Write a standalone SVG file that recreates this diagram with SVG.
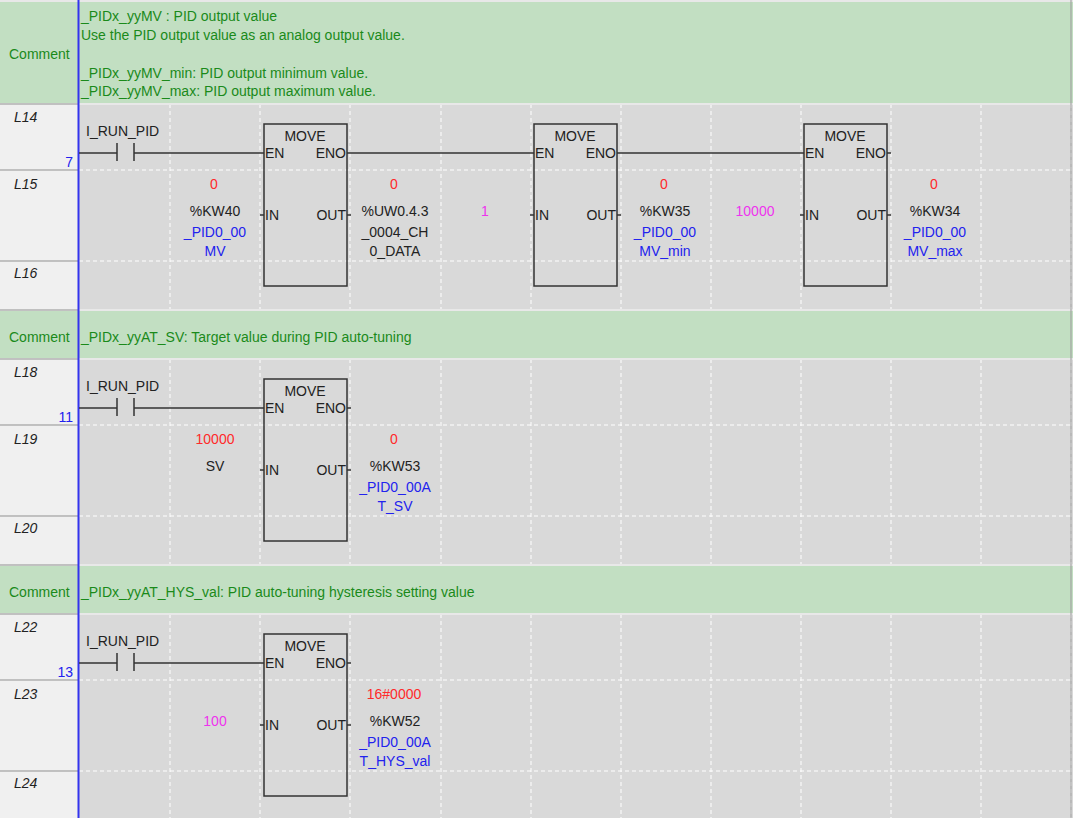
<svg xmlns="http://www.w3.org/2000/svg" width="1073" height="818" viewBox="0 0 1073 818">
<defs><style>
text{font-family:"Liberation Sans",Arial,sans-serif;font-size:14px}
.lbl{font-style:italic;fill:#222}
.cm{fill:#1a8a1a}
.k{fill:#222}
.r{fill:#ff2a2a}
.b{fill:#2222ee}
.m{fill:#ee33ee}
.grid{stroke:#fff;stroke-dasharray:4 3;stroke-width:1}
.w{stroke:#333;stroke-width:1.5;fill:none}
.box{fill:none;stroke:#333;stroke-width:1.5}
</style></defs>
<rect width="1073" height="818" fill="#d9d9d9"/>
<rect width="78" height="818" fill="#f0f0f0"/>
<g id="comments" fill="#c2dfc2">
<rect x="79" y="0" width="994" height="103"/><rect x="0" y="0" width="78" height="103"/>
<rect x="79" y="311" width="994" height="47"/><rect x="0" y="311" width="78" height="47"/>
<rect x="79" y="566" width="994" height="47"/><rect x="0" y="566" width="78" height="47"/>
</g>
<g id="grid">
<path class="grid" d="M170 104V310M260 104V310M350 104V310M441 104V310M531 104V310M621 104V310M711 104V310M801 104V310M891 104V310M981 104V310M1071 104V310"/>
<path class="grid" d="M170 359V565M260 359V565M350 359V565M441 359V565M531 359V565M621 359V565M711 359V565M801 359V565M891 359V565M981 359V565M1071 359V565"/>
<path class="grid" d="M170 614V818M260 614V818M350 614V818M441 614V818M531 614V818M621 614V818M711 614V818M801 614V818M891 614V818M981 614V818M1071 614V818"/>
<path class="grid" d="M79 170H1073M79 261H1073M79 425H1073M79 516H1073M79 680H1073M79 771H1073"/>
<path d="M0 1H1073M0 104H1073M0 310H1073M0 359H1073M0 565H1073M0 614H1073M0 170H78M0 261H78M0 425H78M0 516H78M0 680H78M0 771H78" stroke="#e8e8e8" stroke-width="2"/>
<path d="M0 104H78M0 170H78M0 261H78M0 310H78M0 359H78M0 425H78M0 516H78M0 565H78M0 614H78M0 680H78M0 771H78" stroke="#999" stroke-width="1"/>
<path d="M1071 0V818" stroke="#999"/>
</g>
<path d="M78.5 0V818" stroke="#3333ee" stroke-width="2"/>
<g id="labels">
<text x="9" y="59" class="cm">Comment</text>
<text x="9" y="342" class="cm">Comment</text>
<text x="9" y="597" class="cm">Comment</text>
<text x="14" y="122" class="lbl">L14</text><text x="14" y="189" class="lbl">L15</text><text x="14" y="278" class="lbl">L16</text>
<text x="14" y="377" class="lbl">L18</text><text x="14" y="444" class="lbl">L19</text><text x="14" y="533" class="lbl">L20</text>
<text x="14" y="632" class="lbl">L22</text><text x="14" y="699" class="lbl">L23</text><text x="14" y="788" class="lbl">L24</text>
<text x="73" y="167" class="b" text-anchor="end">7</text>
<text x="73" y="422" class="b" text-anchor="end">11</text>
<text x="73" y="677" class="b" text-anchor="end">13</text>
</g>
<g id="comment-text" class="cm">
<text x="81" y="21" class="cm">_PIDx_yyMV : PID output value</text>
<text x="81" y="40" class="cm">Use the PID output value as an analog output value.</text>
<text x="81" y="78" class="cm">_PIDx_yyMV_min: PID output minimum value.</text>
<text x="81" y="96" class="cm">_PIDx_yyMV_max: PID output maximum value.</text>
<text x="81" y="342" class="cm">_PIDx_yyAT_SV: Target value during PID auto-tuning</text>
<text x="81" y="597" class="cm">_PIDx_yyAT_HYS_val: PID auto-tuning hysteresis setting value</text>
</g>
<g id="connectors">
<path class="w" d="M79 153H117M134 153H264M347 153H534M617 153H804M887 153H891M117 143V161M134 143V161"/>
<path class="w" d="M260 215H264M347 215H351M530 215H534M617 215H621M800 215H804M887 215H891"/>
<path class="w" d="M79 408H117M134 408H264M347 408H351M117 398V416M134 398V416M260 470H264M347 470H351"/>
<path class="w" d="M79 663H117M134 663H264M347 663H351M117 653V671M134 653V671M260 725H264M347 725H351"/>
</g>
<g id="contact1"><text x="86" y="136" class="k">I_RUN_PID</text></g>
<g id="contact2"><text x="86" y="391" class="k">I_RUN_PID</text></g>
<g id="contact3"><text x="86" y="646" class="k">I_RUN_PID</text></g>
<g id="move1"><rect class="box" x="264" y="124" width="83" height="162"/><text x="305" y="141" class="k" text-anchor="middle">MOVE</text><text x="265" y="158" class="k">EN</text><text x="346" y="158" class="k" text-anchor="end">ENO</text><text x="265" y="220" class="k">IN</text><text x="346" y="220" class="k" text-anchor="end">OUT</text></g>
<g id="move2"><rect class="box" x="534" y="124" width="83" height="162"/><text x="575" y="141" class="k" text-anchor="middle">MOVE</text><text x="535" y="158" class="k">EN</text><text x="616" y="158" class="k" text-anchor="end">ENO</text><text x="535" y="220" class="k">IN</text><text x="616" y="220" class="k" text-anchor="end">OUT</text></g>
<g id="move3"><rect class="box" x="804" y="124" width="83" height="162"/><text x="845" y="141" class="k" text-anchor="middle">MOVE</text><text x="805" y="158" class="k">EN</text><text x="886" y="158" class="k" text-anchor="end">ENO</text><text x="805" y="220" class="k">IN</text><text x="886" y="220" class="k" text-anchor="end">OUT</text></g>
<g id="move4"><rect class="box" x="264" y="379" width="83" height="162"/><text x="305" y="396" class="k" text-anchor="middle">MOVE</text><text x="265" y="413" class="k">EN</text><text x="346" y="413" class="k" text-anchor="end">ENO</text><text x="265" y="475" class="k">IN</text><text x="346" y="475" class="k" text-anchor="end">OUT</text></g>
<g id="move5"><rect class="box" x="264" y="634" width="83" height="162"/><text x="305" y="651" class="k" text-anchor="middle">MOVE</text><text x="265" y="668" class="k">EN</text><text x="346" y="668" class="k" text-anchor="end">ENO</text><text x="265" y="730" class="k">IN</text><text x="346" y="730" class="k" text-anchor="end">OUT</text></g>
<g id="operands" text-anchor="middle">
<text x="214" y="189" class="r">0</text><text x="215" y="216" class="k">%KW40</text><text x="215" y="237" class="b">_PID0_00</text><text x="215" y="256" class="b">MV</text>
<text x="394" y="189" class="r">0</text><text x="395" y="216" class="k">%UW0.4.3</text><text x="395" y="237" class="k">_0004_CH</text><text x="395" y="256" class="k">0_DATA</text>
<text x="485" y="216" class="m">1</text>
<text x="664" y="189" class="r">0</text><text x="665" y="216" class="k">%KW35</text><text x="665" y="237" class="b">_PID0_00</text><text x="665" y="256" class="b">MV_min</text>
<text x="755" y="216" class="m">10000</text>
<text x="934" y="189" class="r">0</text><text x="935" y="216" class="k">%KW34</text><text x="935" y="237" class="b">_PID0_00</text><text x="935" y="256" class="b">MV_max</text>
<text x="215" y="444" class="r">10000</text><text x="215" y="471" class="k">SV</text>
<text x="394" y="444" class="r">0</text><text x="395" y="471" class="k">%KW53</text><text x="395" y="492" class="b">_PID0_00A</text><text x="395" y="511" class="b">T_SV</text>
<text x="215" y="726" class="m">100</text>
<text x="394" y="699" class="r">16#0000</text><text x="395" y="726" class="k">%KW52</text><text x="395" y="747" class="b">_PID0_00A</text><text x="395" y="766" class="b">T_HYS_val</text>
</g>
</svg>
